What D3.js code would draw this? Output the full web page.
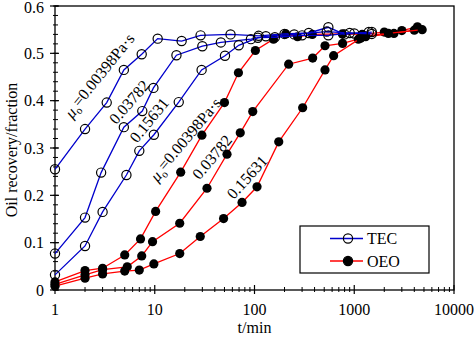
<!DOCTYPE html>
<html>
<head>
<meta charset="utf-8">
<script src="https://cdn.jsdelivr.net/npm/d3@7"></script>
<style>
  body { margin: 0; background: #fff; }
</style>
</head>
<body>
<div id="chart"></div>
<script>
// time (min) and oil recovery (fraction)
var tecT1 = [1, 2, 3.3, 4.9, 7.4, 10.7, 18.6, 28.8, 57.5, 110, 200, 350, 550, 800, 1400];
var tecV1 = [0.255, 0.34, 0.396, 0.465, 0.498, 0.531, 0.526, 0.538, 0.54, 0.537, 0.541, 0.543, 0.555, 0.54, 0.545];
var tecT2 = [1, 2, 2.9, 4.9, 7.5, 9.7, 16.5, 30, 46, 92, 130, 250, 530, 1000, 1500];
var tecV2 = [0.077, 0.153, 0.248, 0.344, 0.378, 0.427, 0.496, 0.515, 0.523, 0.53, 0.536, 0.54, 0.546, 0.542, 0.545];
var tecT3 = [1, 2, 3, 5.2, 7, 9.8, 17.4, 29.5, 50.6, 69.5, 108, 160, 300, 550, 900, 1500];
var tecV3 = [0.032, 0.093, 0.165, 0.243, 0.294, 0.328, 0.397, 0.465, 0.495, 0.517, 0.533, 0.534, 0.538, 0.538, 0.543, 0.541];

var oeoT1 = [1, 2, 3, 5, 7.2, 10.2, 18.2, 29.7, 50, 69, 102, 155, 206, 270, 380, 760, 1200, 2000, 3000, 4300];
var oeoV1 = [0.017, 0.041, 0.046, 0.074, 0.108, 0.166, 0.249, 0.327, 0.396, 0.459, 0.506, 0.53, 0.541, 0.535, 0.54, 0.541, 0.54, 0.545, 0.548, 0.556];
var oeoT2 = [1, 2, 3, 5.3, 7.4, 9.5, 17.8, 33.4, 53, 72, 96, 220, 383, 509, 764, 1100, 1300, 2500, 4000];
var oeoV2 = [0.012, 0.032, 0.043, 0.049, 0.072, 0.102, 0.141, 0.215, 0.287, 0.332, 0.377, 0.477, 0.49, 0.516, 0.521, 0.53, 0.535, 0.542, 0.549];
var oeoT3 = [1, 2, 3, 5, 7, 9.8, 17.8, 28.6, 49, 75, 106, 175, 304, 509, 621, 1160, 1300, 2200, 4800];
var oeoV3 = [0.008, 0.025, 0.034, 0.04, 0.042, 0.055, 0.077, 0.113, 0.151, 0.185, 0.218, 0.313, 0.385, 0.465, 0.495, 0.532, 0.537, 0.542, 0.55];

var xTicks = [1, 10, 100, 1000, 10000];
var yTicks = [0, 0.1, 0.2, 0.3, 0.4, 0.5, 0.6];
var legendNames = ["TEC", "OEO"];

var margin = {top: 6, right: 20, bottom: 48, left: 55},
    width = 474 - margin.left - margin.right,
    height = 338 - margin.top - margin.bottom;

var x = d3.scaleLog().domain([1, 10000]).range([0, width]);
var y = d3.scaleLinear().domain([0, 0.6]).range([height, 0]);

var svg = d3.select("#chart").append("svg")
    .attr("width", 474)
    .attr("height", 338)
    .attr("font-family", "'Liberation Serif', 'Times New Roman', Times, serif")
  .append("g")
    .attr("transform", "translate(" + margin.left + "," + margin.top + ")");

function zip(t, v) {
  return t.map(function (d, i) { return {t: d, v: v[i]}; });
}

var line = d3.line()
    .x(function (d) { return x(d.t); })
    .y(function (d) { return y(d.v); });

// minor ticks
var xMinor = [];
for (var e = 0; e < 4; e++) {
  for (var k = 2; k <= 9; k++) xMinor.push(k * Math.pow(10, e));
}
var yMinor = d3.range(0, 0.601, 0.02);

svg.selectAll(".xminor")
    .data(xMinor).enter().append("line")
    .attr("x1", function (d) { return x(d); })
    .attr("x2", function (d) { return x(d); })
    .attr("y1", height - 3).attr("y2", height + 2)
    .attr("stroke", "#000").attr("stroke-width", 1);

svg.selectAll(".xmajor")
    .data(xTicks).enter().append("line")
    .attr("x1", function (d) { return x(d); })
    .attr("x2", function (d) { return x(d); })
    .attr("y1", height - 5).attr("y2", height + 4)
    .attr("stroke", "#000").attr("stroke-width", 1.2);

svg.selectAll(".yminor")
    .data(yMinor).enter().append("line")
    .attr("x1", -2).attr("x2", 3)
    .attr("y1", function (d) { return y(d); })
    .attr("y2", function (d) { return y(d); })
    .attr("stroke", "#000").attr("stroke-width", 1);

svg.selectAll(".ymajor")
    .data(yTicks).enter().append("line")
    .attr("x1", -5).attr("x2", 4)
    .attr("y1", function (d) { return y(d); })
    .attr("y2", function (d) { return y(d); })
    .attr("stroke", "#000").attr("stroke-width", 1.2);

svg.selectAll(".xlab")
    .data(xTicks).enter().append("text")
    .attr("x", function (d) { return x(d); })
    .attr("y", height + 25)
    .attr("text-anchor", "middle")
    .style("font-size", "16px")
    .text(function (d) { return d; });

svg.selectAll(".ylab")
    .data(yTicks).enter().append("text")
    .attr("x", -11)
    .attr("y", function (d) { return y(d); })
    .attr("dy", d => d === 0.6 ? "0.45em" : "0.35em")
    .attr("text-anchor", "end")
    .style("font-size", "16px")
    .text(function (d) { return d === 0 ? "0" : d.toFixed(1); });

svg.append("rect")
    .attr("width", width).attr("height", height)
    .attr("fill", "none").attr("stroke", "#000").attr("stroke-width", 1.3);

svg.append("text")
    .attr("x", width / 2)
    .attr("y", height + 43)
    .attr("text-anchor", "middle")
    .style("font-size", "16px")
    .text("t/min");

svg.append("text")
    .attr("transform", "translate(-38," + (y(0.3) + 2) + ") rotate(-90)")
    .attr("text-anchor", "middle")
    .style("font-size", "16px")
    .text("Oil recovery/fraction");

// OEO curves
var oeo = [zip(oeoT1, oeoV1), zip(oeoT2, oeoV2), zip(oeoT3, oeoV3)];
var tec = [zip(tecT1, tecV1), zip(tecT2, tecV2), zip(tecT3, tecV3)];

oeo.forEach(function (s) {
  svg.append("path").datum(s)
      .attr("d", line)
      .attr("fill", "none").attr("stroke", "#ff0000").attr("stroke-width", 1.3);
  svg.selectAll(null).data(s).enter().append("circle")
      .attr("cx", function (d) { return x(d.t); })
      .attr("cy", function (d) { return y(d.v); })
      .attr("r", 4.6)
      .attr("fill", "#000");
});

tec.forEach(function (s) {
  svg.append("path").datum(s)
      .attr("d", line)
      .attr("fill", "none").attr("stroke", "#0000cc").attr("stroke-width", 1.3);
  svg.selectAll(null).data(s).enter().append("circle")
      .attr("cx", function (d) { return x(d.t); })
      .attr("cy", function (d) { return y(d.v); })
      .attr("r", 4.6)
      .attr("fill", "none")
      .attr("stroke", "#000").attr("stroke-width", 1.2);
});

// rotated viscosity labels
var notes = [
  {mu: true, txt: "=0.00398Pa\u00b7s", cx: 100, cy: 76, a: -51},
  {mu: false, txt: "0.03782", cx: 129, cy: 102, a: -49},
  {mu: false, txt: "0.15631", cx: 149, cy: 120, a: -51},
  {mu: true, txt: "=0.00398Pa\u00b7s", cx: 186, cy: 140, a: -50},
  {mu: false, txt: "0.03782", cx: 212, cy: 157, a: -50},
  {mu: false, txt: "0.15631", cx: 247, cy: 177, a: -48}
];

notes.forEach(function (n) {
  var t = svg.append("text")
      .attr("transform", "translate(" + (n.cx - margin.left) + "," + (n.cy - margin.top) + ") rotate(" + n.a + ")")
      .attr("text-anchor", "middle")
      .attr("dy", "0.35em")
      .style("font-size", "16px");
  if (n.mu) {
    t.append("tspan").style("font-style", "italic").text("\u03bc");
    t.append("tspan").attr("dy", "0.3em").style("font-size", "11px").text("o");
    t.append("tspan").attr("dy", "-0.3em").text(n.txt);
  } else {
    t.text(n.txt);
  }
});

// legend
var lg = svg.append("g").attr("transform", "translate(" + (300 - margin.left) + "," + (226 - margin.top) + ")");
lg.append("rect")
    .attr("width", 129).attr("height", 47)
    .attr("fill", "#fff").attr("stroke", "#000").attr("stroke-width", 1.2);

legendNames.forEach(function (name, i) {
  var yy = 12.5 + i * 22.5;
  lg.append("line")
      .attr("x1", 30).attr("x2", 63)
      .attr("y1", yy).attr("y2", yy)
      .attr("stroke", i === 0 ? "#0000cc" : "#ff0000").attr("stroke-width", 1.3);
  lg.append("circle")
      .attr("cx", 48).attr("cy", yy).attr("r", 4.6)
      .attr("fill", i === 0 ? "none" : "#000")
      .attr("stroke", "#000").attr("stroke-width", 1.2);
  lg.append("text")
      .attr("x", 67).attr("y", yy)
      .attr("dy", "0.35em")
      .style("font-size", "16px")
      .text(name);
});
</script>
</body>
</html>
